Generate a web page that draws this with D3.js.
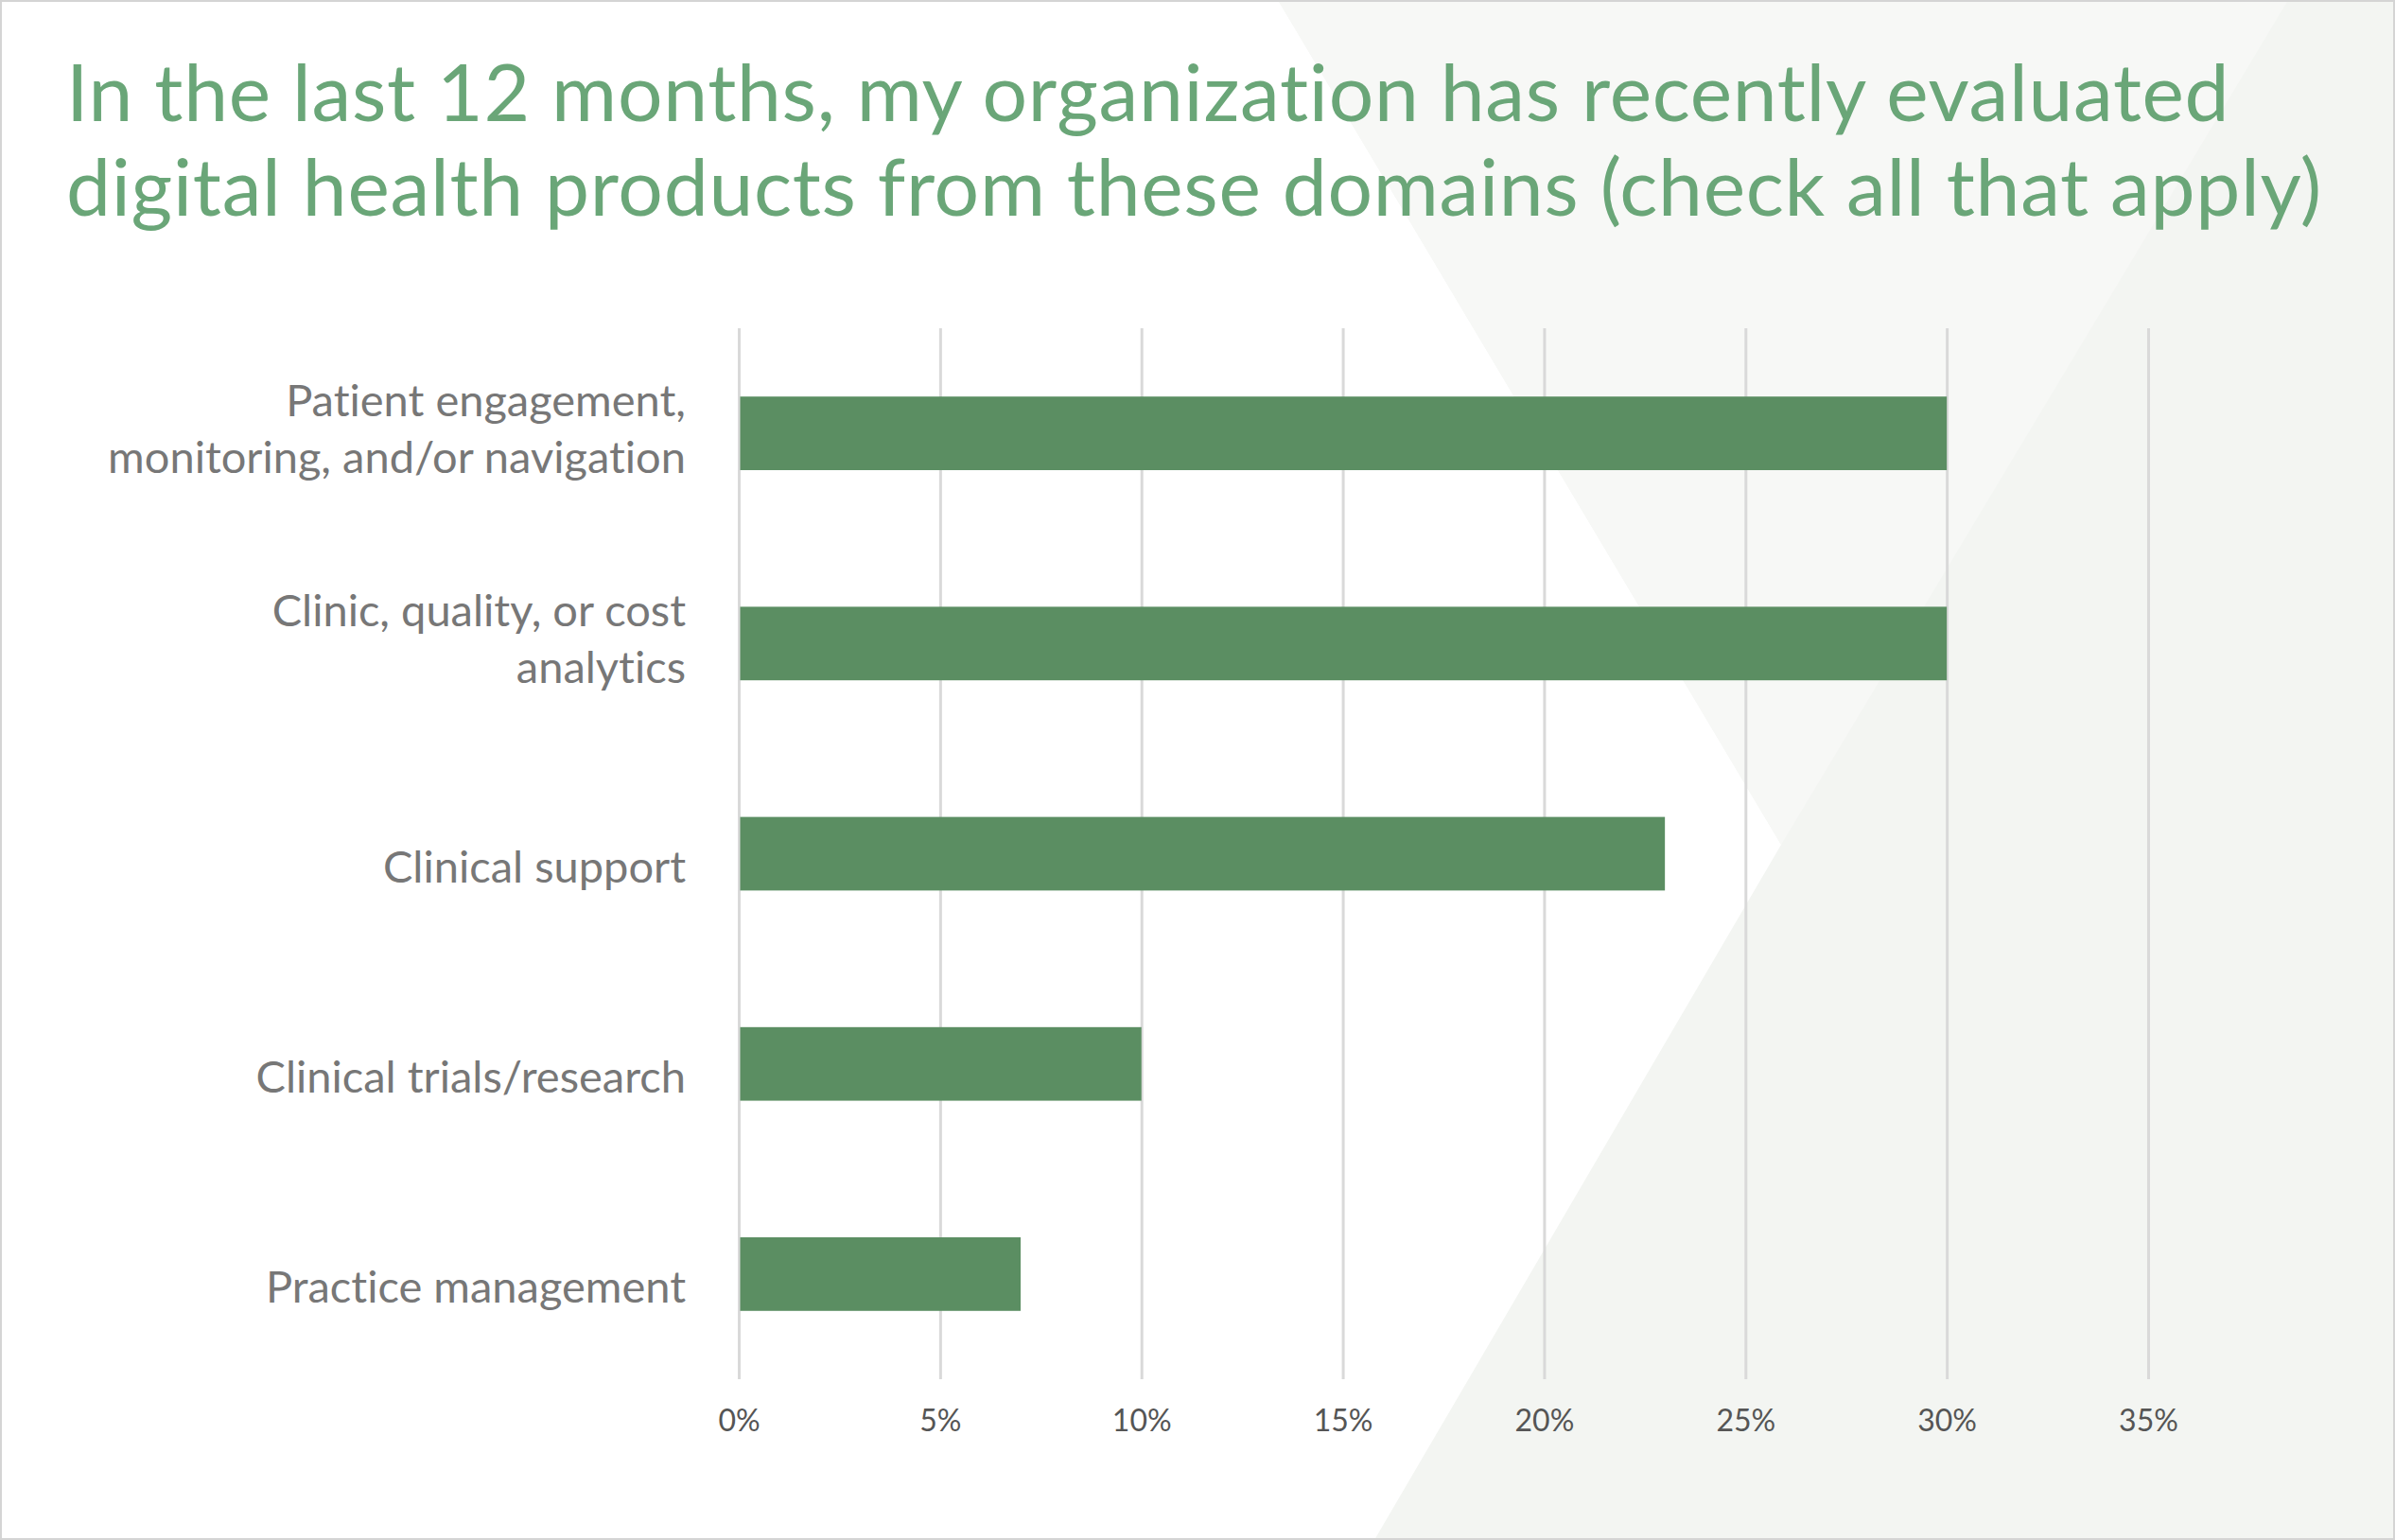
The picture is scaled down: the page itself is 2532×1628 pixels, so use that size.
<!DOCTYPE html>
<html lang="en">
<head>
<meta charset="UTF-8">
<title>digital health domains</title>
<style>
  html, body { margin: 0; padding: 0; background: #fff; }
  svg { display: block; }
  text { font-variant-ligatures: none; }
  .title { font-family: Lato, "Open Sans", sans-serif; fill: #6aa678; letter-spacing: 0.7px; }
  .cat { font-family: Lato, "Open Sans", sans-serif; fill: #777; }
  .tick text { font-family: Lato, "Open Sans", sans-serif; fill: #555; }
  .tick line { stroke: #d9d9d9; stroke-width: 3px; }
</style>
</head>
<body>
<div id="chart"></div>
<script src="https://d3js.org/d3.v7.min.js"></script>
<script>
// data
var titleLines = [
  "In the last 12 months, my organization has recently evaluated",
  "digital health products from these domains (check all that apply)"
];
var categories = [
  "Patient engagement,\nmonitoring, and/or navigation",
  "Clinic, quality, or cost\nanalytics",
  "Clinical support",
  "Clinical trials/research",
  "Practice management"
];
var values = [0.30, 0.30, 0.23, 0.10, 0.07];
var tickValues = [0, 0.05, 0.10, 0.15, 0.20, 0.25, 0.30, 0.35];

var W = 2532, H = 1628;
var margin = {top: 347, right: 261, bottom: 170, left: 781};
var width = W - margin.left - margin.right;
var height = H - margin.top - margin.bottom;

var svg = d3.select("#chart").append("svg")
  .attr("width", W)
  .attr("height", H);

// background shapes
var bg = svg.append("g");
bg.append("rect").attr("width", W).attr("height", H).attr("fill", "#fff");
bg.append("path")
  .attr("d", "M1351,0 L" + W + ",0 L" + W + "," + H + " L1453," + H + " L1883,893 Z")
  .attr("fill", "#f3f5f2");
bg.append("path")
  .attr("d", "M1351,0 L2419,0 L1883,893 Z")
  .attr("fill", "#f7f8f6");
bg.append("rect")
  .attr("x", 1).attr("y", 1).attr("width", W - 2).attr("height", H - 2)
  .attr("fill", "none").attr("stroke", "#d4d4d4").attr("stroke-width", 2);

// title
svg.append("g").selectAll("text")
  .data(titleLines)
  .join("text")
  .attr("class", "title")
  .attr("x", 70)
  .attr("y", function(d, i) { return 128 + i * 100; })
  .attr("font-size", 84)
  .text(function(d) { return d; });

var g = svg.append("g")
  .attr("transform", "translate(" + margin.left + "," + margin.top + ")");

var x = d3.scaleLinear().domain([0, 0.35]).range([0, width]);
var y = d3.scaleBand().domain(categories).range([0, height])
  .paddingInner(0.65).paddingOuter(0.325);

// gridlines + tick labels
var xAxis = d3.axisBottom(x)
  .tickValues(tickValues)
  .tickFormat(d3.format(".0%"))
  .tickSizeInner(-height)
  .tickSizeOuter(0);
var axisG = g.append("g")
  .attr("transform", "translate(0," + height + ")")
  .call(xAxis);
axisG.select(".domain").remove();
axisG.selectAll(".tick text")
  .attr("y", 55)
  .attr("dy", 0)
  .attr("font-size", 32);

// bars
g.append("g").selectAll("rect")
  .data(values)
  .join("rect")
  .attr("x", x(0) + 1.5)
  .attr("y", function(d, i) { return y(categories[i]); })
  .attr("width", function(d) { return x(d) - x(0) - 1.5; })
  .attr("height", y.bandwidth())
  .attr("fill", "#5b8e62");

// category labels
var labels = g.append("g").selectAll("text")
  .data(categories)
  .join("text")
  .attr("class", "cat")
  .attr("text-anchor", "end")
  .attr("font-size", 47)
  .attr("x", -56)
  .attr("y", function(d) { return y(d) + y.bandwidth() / 2; });

labels.each(function(d) {
  var lines = d.split("\n");
  var t = d3.select(this);
  lines.forEach(function(line, i) {
    var off = lines.length === 1 ? 30 : (i === 0 ? -18 : 42);
    t.append("tspan")
      .attr("x", -56)
      .attr("dy", i === 0 ? off : 60)
      .text(line);
  });
});
</script>
</body>
</html>
